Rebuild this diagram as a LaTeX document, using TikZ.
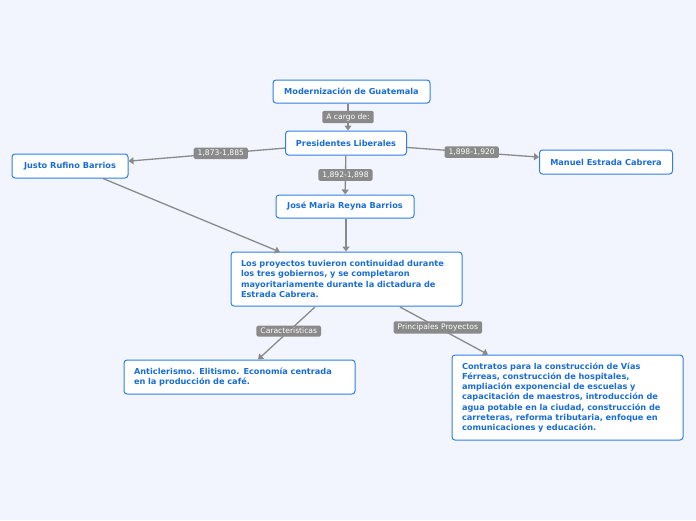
\documentclass[tikz,border=0pt]{standalone}
\usepackage{fontspec}
\setmainfont{DejaVu Sans}
\usetikzlibrary{arrows.meta}
\definecolor{bg}{HTML}{F2F5FE}
\definecolor{bluebd}{HTML}{2E7FE6}
\definecolor{bluetx}{HTML}{1A6DD6}
\definecolor{edge}{HTML}{8A8A8A}
\tikzset{
 box/.style={draw=bluebd, line width=1pt, fill=white, rounded corners=3pt, text=bluetx, font=\bfseries\fontsize{8.2}{10.2}\selectfont, inner xsep=10pt, inner ysep=4pt, align=left},
 lab/.style={fill=edge, text=white, rounded corners=1.5pt, font=\fontsize{7.6}{8.5}\selectfont, inner xsep=4pt, inner ysep=2.5pt},
 con/.style={draw=edge, line width=1.3pt, -{Triangle[length=5pt,width=7pt]}},
 conn/.style={draw=edge, line width=1.3pt}
}
\begin{document}
\begin{tikzpicture}[x=1pt,y=-1pt]
\fill[bg] (0,0) rectangle (696,520);
\useasboundingbox (0,0) rectangle (696,520);
\node[box, minimum width=157pt, minimum height=23pt, align=center] (mod) at (351.5,91.5) {Modernización de Guatemala};
\node[box, minimum width=121pt, minimum height=24pt, align=center] (pres) at (346,143) {Presidentes Liberales};
\node[box, minimum width=116pt, minimum height=24pt, align=center] (justo) at (70,166) {Justo Rufino Barrios};
\node[box, minimum width=133pt, minimum height=24pt, align=center] (manuel) at (606,162) {Manuel Estrada Cabrera};
\node[box, minimum width=138pt, minimum height=23pt, align=center] (jose) at (345,206.5) {José Maria Reyna Barrios};
\node[box, text width=211pt, minimum height=54pt] (los) at (346.5,279) {Los proyectos tuvieron continuidad durante\\los tres gobiernos, y se completaron\\mayoritariamente durante la dictadura de\\Estrada Cabrera.};
\node[box, text width=211pt, minimum height=34pt] (anti) at (239.5,377) {Anticlerismo. Elitismo. Economía centrada\\en la producción de café.};
\node[box, text width=211pt, minimum height=85pt] (contr) at (567.5,397.5) {Contratos para la construcción de Vías\\Férreas, construcción de hospitales,\\ampliación exponencial de escuelas y\\capacitación de maestros, introducción de\\agua potable en la ciudad, construcción de\\carreteras, reforma tributaria, enfoque en\\comunicaciones y educación.};
\draw[con] (mod.south -| 348,0) -- (pres.north -| 348,0) node[lab, midway] {A cargo de:};
\draw[con] (pres) -- (justo) node[lab, pos=0.41] {1,873-1,885};
\draw[con] (pres) -- (manuel) node[lab, pos=0.49] {1,898-1,920};
\draw[con] (pres) -- (jose) node[lab, midway] {1,892-1,898};
\draw[con] (justo.south -| 103,0) -- (280,252);
\draw[con] (jose.south -| 346,0) -- (los.north -| 346,0);
\draw[con] (315,307) -- (anti.north -| 258,0) node[lab, pos=0.46] {Caracteristicas};
\draw[con] (400,307) -- (contr.north -| 488,0) node[lab, pos=0.43] {Principales Proyectos};
\end{tikzpicture}
\end{document}
